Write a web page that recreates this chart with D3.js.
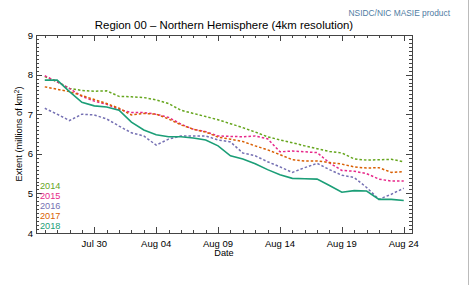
<!DOCTYPE html>
<html>
<head>
<meta charset="utf-8">
<script src="https://cdn.jsdelivr.net/npm/d3@7"></script>
<style>
  body { margin: 0; background: #fff; }
  svg { font-family: "Liberation Sans", Arial, sans-serif; }
</style>
</head>
<body>
<div id="chart"></div>
<script>
// daily dates shown on the plot
var dates = ["2018-07-26","2018-07-27","2018-07-28","2018-07-29","2018-07-30","2018-07-31",
  "2018-08-01","2018-08-02","2018-08-03","2018-08-04","2018-08-05","2018-08-06","2018-08-07",
  "2018-08-08","2018-08-09","2018-08-10","2018-08-11","2018-08-12","2018-08-13","2018-08-14",
  "2018-08-15","2018-08-16","2018-08-17","2018-08-18","2018-08-19","2018-08-20","2018-08-21",
  "2018-08-22","2018-08-23","2018-08-24"];

var years = ["2014", "2015", "2016", "2017", "2018"];

// extent, millions of km2
var ext2014 = [7.95,7.82,7.65,7.60,7.58,7.59,7.45,7.44,7.42,7.36,7.27,7.10,7.02,6.94,6.86,
  6.76,6.66,6.55,6.43,6.35,6.28,6.20,6.13,6.06,6.02,5.87,5.84,5.85,5.86,5.80];
var ext2015 = [7.97,7.82,7.65,7.45,7.33,7.25,7.12,7.04,7.04,7.00,6.92,6.75,6.62,6.56,6.45,
  6.44,6.43,6.45,6.38,6.05,6.07,6.05,6.03,5.77,5.58,5.56,5.50,5.36,5.31,5.31];
var ext2016 = [7.15,7.00,6.84,7.00,6.98,6.88,6.70,6.53,6.45,6.22,6.37,6.45,6.45,6.45,6.35,
  6.30,6.02,5.95,5.80,5.67,5.53,5.65,5.76,5.60,5.46,5.40,5.15,4.85,4.98,5.13];
var ext2017 = [7.69,7.63,7.57,7.47,7.37,7.27,7.15,6.98,7.02,7.00,6.88,6.73,6.62,6.55,6.42,
  6.37,6.31,6.20,6.10,5.98,5.85,5.82,5.82,5.78,5.74,5.67,5.64,5.65,5.53,5.55];
var ext2018 = [7.86,7.86,7.57,7.30,7.21,7.18,7.10,6.80,6.60,6.48,6.43,6.43,6.40,6.35,6.20,
  5.95,5.87,5.75,5.60,5.47,5.38,5.37,5.36,5.20,5.03,5.07,5.06,4.85,4.85,4.82];

var tickDates = ["2018-07-30","2018-08-04","2018-08-09","2018-08-14","2018-08-19","2018-08-24"];
var tickLabels = ["Jul 30", "Aug 04", "Aug 09", "Aug 14", "Aug 19", "Aug 24"];
var yTicks = [4, 5, 6, 7, 8, 9];

var series = [ext2014, ext2015, ext2016, ext2017, ext2018];
var colors = ["#66a61e", "#e7298a", "#7570b3", "#d95f02", "#1b9e77"];

var W = 474, H = 285;
var margin = {top: 35, right: 62, bottom: 52, left: 36};

var parse = d3.utcParse("%Y-%m-%d");
var days = dates.map(parse);

var x = d3.scaleUtc()
  .domain([d3.utcHour.offset(days[0], -17), d3.utcHour.offset(days[days.length - 1], 16)])
  .range([margin.left, W - margin.right]);
var y = d3.scaleLinear().domain([4, 9]).range([H - margin.bottom, margin.top]);

var svg = d3.select("#chart").append("svg")
  .attr("width", W)
  .attr("height", H);

// thin grey frame line at the right edge
svg.append("line")
  .attr("x1", 468.5).attr("x2", 468.5)
  .attr("y1", 0).attr("y2", H)
  .attr("stroke", "#bbb");

var x0 = margin.left, x1 = W - margin.right, y0 = H - margin.bottom, y1 = margin.top;

// minor and major ticks, pointing inward on all four sides
var g = svg.append("g").attr("stroke", "#444").attr("stroke-width", 1);
var tickSet = new Set(tickDates);
dates.forEach(function(s, i) {
  var len = tickSet.has(s) ? 6 : 3;
  var px = Math.round(x(days[i])) + 0.5;
  g.append("line").attr("x1", px).attr("x2", px).attr("y1", y0).attr("y2", y0 - len);
  g.append("line").attr("x1", px).attr("x2", px).attr("y1", y1).attr("y2", y1 + len);
});
d3.range(40, 91).forEach(function(k) {
  var v = k / 10;
  var len = (k % 10 === 0) ? 6 : 3;
  var py = Math.round(y(v)) + 0.5;
  g.append("line").attr("x1", x0).attr("x2", x0 + len).attr("y1", py).attr("y2", py);
  g.append("line").attr("x1", x1).attr("x2", x1 - len).attr("y1", py).attr("y2", py);
});

// axes box
svg.append("rect")
  .attr("x", x0 + 0.5).attr("y", y1 + 0.5)
  .attr("width", x1 - x0).attr("height", y0 - y1)
  .attr("fill", "none").attr("stroke", "#444");

// tick labels
svg.append("g").selectAll("text")
  .data(tickDates)
  .enter().append("text")
  .attr("x", function(d) { return x(parse(d)); })
  .attr("y", y0 + 14)
  .attr("text-anchor", "middle")
  .attr("font-size", 9.5)
  .text(function(d, i) { return tickLabels[i]; });

svg.append("g").selectAll("text")
  .data(yTicks)
  .enter().append("text")
  .attr("x", x0 - 3)
  .attr("y", function(d) { return y(d) + 3.5; })
  .attr("text-anchor", "end")
  .attr("font-size", 9.5)
  .text(function(d) { return d; });

// the five years
var line = d3.line()
  .x(function(d, i) { return x(days[i]); })
  .y(function(d) { return y(d); });

series.forEach(function(s, i) {
  svg.append("path")
    .datum(s)
    .attr("fill", "none")
    .attr("stroke", colors[i])
    .attr("stroke-width", i === 4 ? 1.6 : 1.5)
    .attr("stroke-dasharray", i === 4 ? null : "2.5,2")
    .attr("d", line);
});

// legend
svg.append("g").selectAll("text")
  .data(years)
  .enter().append("text")
  .attr("x", 40)
  .attr("y", function(d, i) { return 189 + i * 10; })
  .attr("font-size", 9.2)
  .attr("fill", function(d, i) { return colors[i]; })
  .text(function(d) { return d; });

// titles
svg.append("text")
  .attr("x", 224).attr("y", 29)
  .attr("text-anchor", "middle")
  .attr("font-size", 11.4)
  .text("Region 00 \u2013 Northern Hemisphere (4km resolution)");

svg.append("text")
  .attr("x", 450).attr("y", 15.5)
  .attr("text-anchor", "end")
  .attr("font-size", 8.4)
  .attr("fill", "#4f7ca3")
  .text("NSIDC/NIC MASIE product");

svg.append("text")
  .attr("x", 224).attr("y", 256)
  .attr("text-anchor", "middle")
  .attr("font-size", 9.2)
  .text("Date");

svg.append("text")
  .attr("transform", "translate(22," + ((y0 + y1) / 2) + ") rotate(-90)")
  .attr("text-anchor", "middle")
  .attr("font-size", 9.3)
  .html("Extent (millions of km<tspan dy='-3.5' font-size='6.5'>2</tspan><tspan dy='3.5'>)</tspan>");
</script>
</body>
</html>
